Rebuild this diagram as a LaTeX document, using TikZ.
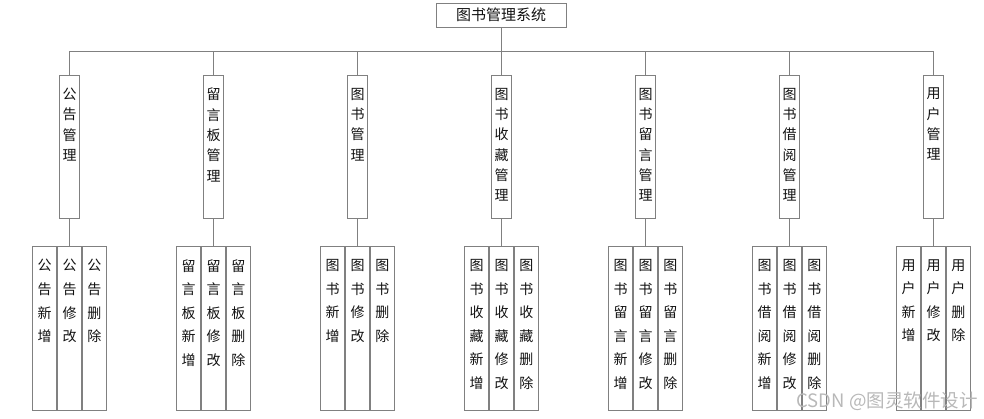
\documentclass[tikz,border=0pt]{standalone}
\usepackage{fontspec}
\setmainfont{Noto Sans CJK SC}
\definecolor{linegray}{HTML}{808080}
\definecolor{txt}{HTML}{111111}
\begin{document}
\begin{tikzpicture}[x=1pt,y=-1pt, line width=0.8pt,
  box/.style={draw=linegray, inner sep=0pt},
  midbox/.style={box, minimum width=19.5pt, minimum height=143pt, anchor=north},
  leafbox/.style={box, minimum width=24.1pt, minimum height=164pt, anchor=north},
  midtxt/.style={inner sep=0pt, anchor=north, align=center, text=txt, font=\fontsize{14}{20.3}\selectfont},
  leaftxt/.style={inner sep=0pt, anchor=north, align=center, text=txt, font=\fontsize{14}{23.6}\selectfont},
  conn/.style={draw=linegray}
]
\useasboundingbox (0,0) rectangle (984,418);
\node[box, minimum width=130pt, minimum height=24pt, text=txt, font=\fontsize{15}{18}\selectfont] (root) at (501,15) {图书管理系统};
\coordinate (bus) at (501,51);
\draw[conn] (root.south) -- (bus);
\foreach \i/\p/\m in {0/{公\\告}/{公\\告\\管\\理},
                      1/{留\\言\\板}/{留\\言\\板\\管\\理},
                      2/{图\\书}/{图\\书\\管\\理},
                      3/{图\\书\\收\\藏}/{图\\书\\收\\藏\\管\\理},
                      4/{图\\书\\留\\言}/{图\\书\\留\\言\\管\\理},
                      5/{图\\书\\借\\阅}/{图\\书\\借\\阅\\管\\理},
                      6/{用\\户}/{用\\户\\管\\理}} {
  \pgfmathsetmacro{\cx}{69.5+144*\i}
  \node[midbox] (m\i) at (\cx,74.7) {};
  \node[midtxt] (tm\i) at ([yshift=-13pt]m\i.north) {\m};
  \node[leafbox] (lb\i) at (\cx,246) {};
  \node[leafbox, anchor=north east] (la\i) at (lb\i.north west) {};
  \node[leafbox, anchor=north west] (lc\i) at (lb\i.north east) {};
  \node[leaftxt] (tla\i) at ([yshift=-13pt]la\i.north) {\p\\新\\增};
  \node[leaftxt] (tlb\i) at ([yshift=-13pt]lb\i.north) {\p\\修\\改};
  \node[leaftxt] (tlc\i) at ([yshift=-13pt]lc\i.north) {\p\\删\\除};
  \draw[conn] (m\i.north) |- (bus);
  \draw[conn] (m\i.south) -- (lb\i.north);
}
\node[anchor=south east, inner sep=0pt, text=black!28, font=\fontsize{18.5}{19}\selectfont] (wm) at (978,411) {CSDN @图灵软件设计};
\end{tikzpicture}
\end{document}
